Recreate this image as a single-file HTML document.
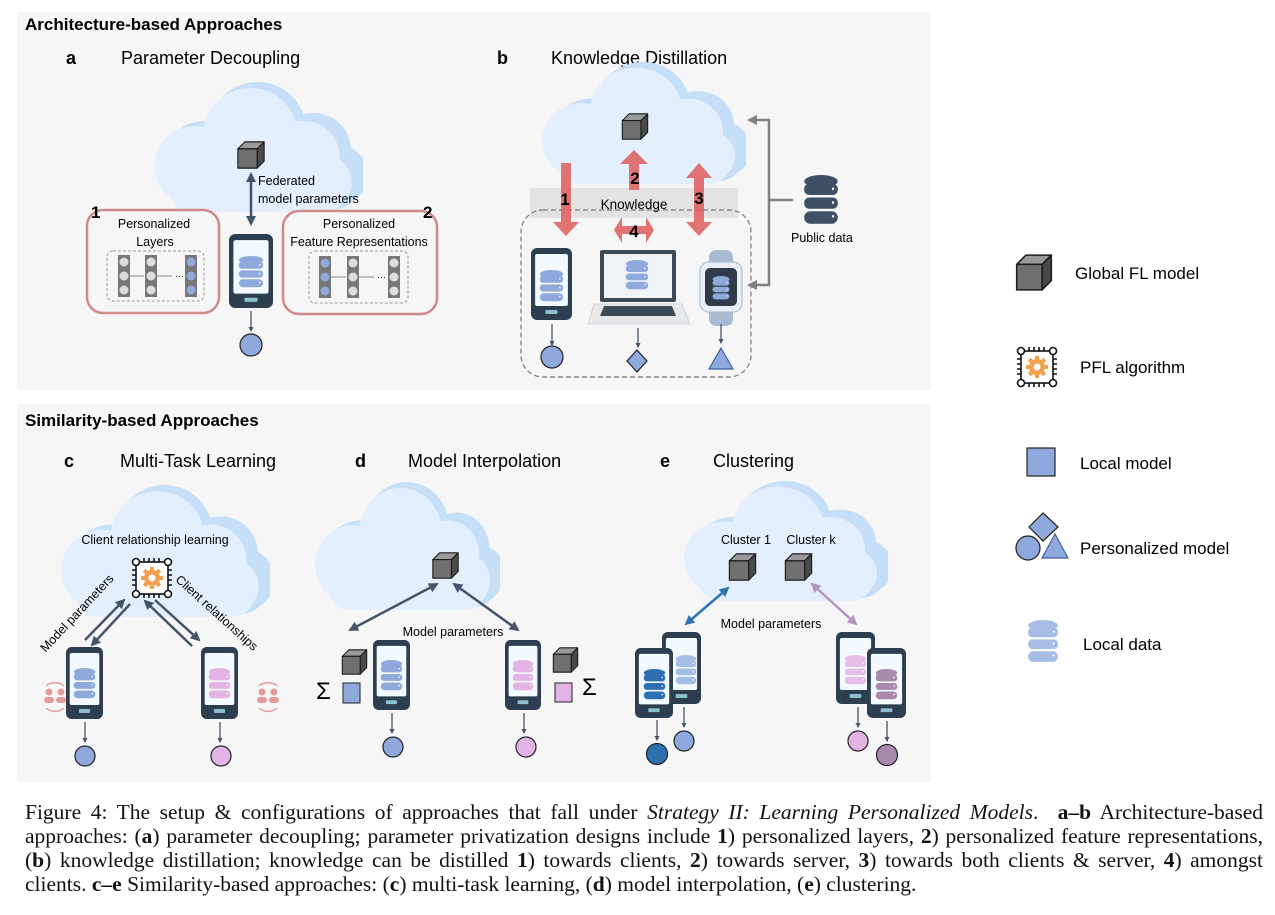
<!DOCTYPE html>
<html><head><meta charset="utf-8"><style>
html,body{margin:0;padding:0;background:#fff;width:1275px;height:915px;overflow:hidden}
.cap{position:absolute;left:25px;top:800px;width:1238px;font-family:"Liberation Serif",serif;font-size:21.5px;line-height:24px;color:#111}
.cap div{text-align:justify;text-align-last:justify;white-space:nowrap}
.cap div.last{text-align-last:left}
svg text{font-family:"Liberation Sans",sans-serif}
</style></head><body>
<svg width="1275" height="800" viewBox="0 0 1275 800" style="position:absolute;left:0;top:0">
<defs>
<symbol id="cloud" viewBox="0 0 210 130" preserveAspectRatio="none">
<g fill="#c6dff9" transform="translate(7,-3)">
<circle cx="100" cy="50" r="47"/><circle cx="48" cy="82" r="40"/><circle cx="155" cy="70" r="36"/><circle cx="178" cy="96" r="30"/><rect x="30" y="80" width="170" height="50" rx="25"/></g>
<g fill="#e3effc">
<circle cx="100" cy="52" r="46"/><circle cx="46" cy="84" r="40"/><circle cx="152" cy="74" r="35"/><circle cx="172" cy="100" r="27"/><rect x="20" y="84" width="175" height="46" rx="23"/></g>
</symbol>
<symbol id="phone" viewBox="0 0 40 72" preserveAspectRatio="none">
<rect x="0" y="0" width="40" height="72" rx="6" fill="#2c3e50"/>
<rect x="4" y="6" width="32" height="52" rx="2" fill="#f3faff"/>
<rect x="14" y="62" width="12" height="4" rx="1" fill="#8cc0d0"/>
</symbol>
<symbol id="db" viewBox="0 0 30 40" preserveAspectRatio="none">
<ellipse cx="15" cy="5" rx="14" ry="5"/>
<rect x="1" y="7" width="28" height="9" rx="4"/>
<rect x="1" y="18" width="28" height="9" rx="4"/>
<rect x="1" y="29" width="28" height="10" rx="5"/>
<g fill="#fff"><circle cx="25" cy="11" r="1"/><circle cx="25" cy="22" r="1"/><circle cx="25" cy="33" r="1"/></g>
</symbol>
<symbol id="cube" viewBox="0 0 32 32">
<g stroke="#1a1a1a" stroke-width="1.3" stroke-linejoin="round">
<polygon points="1,9 9,1 31,1 23,9" fill="#9a9a9a"/>
<polygon points="23,9 31,1 31,23 23,31" fill="#4a4a4a"/>
<rect x="1" y="9" width="22" height="22" fill="#707070"/></g>
</symbol>
<symbol id="chip" viewBox="0 0 44 44">
<g stroke="#111" stroke-width="1.6" fill="none">
<rect x="6" y="6" width="32" height="32" fill="#fff"/>
<path d="M14 2v4M19 2v4M24 2v4M29 2v4M14 38v4M19 38v4M24 38v4M29 38v4M2 14h4M2 19h4M2 24h4M2 29h4M38 14h4M38 19h4M38 24h4M38 29h4"/>
<circle cx="6" cy="6" r="3.5" fill="#fff"/><circle cx="38" cy="6" r="3.5" fill="#fff"/><circle cx="6" cy="38" r="3.5" fill="#fff"/><circle cx="38" cy="38" r="3.5" fill="#fff"/></g>
<g fill="#f3a04c"><circle cx="22" cy="22" r="8"/>
<rect x="20" y="11" width="4" height="22"/><rect x="11" y="20" width="22" height="4"/>
<rect x="20" y="11" width="4" height="22" transform="rotate(45 22 22)"/><rect x="20" y="11" width="4" height="22" transform="rotate(-45 22 22)"/></g>
<circle cx="22" cy="22" r="3.5" fill="#fff"/>
</symbol>
<marker id="ah" viewBox="0 0 10 10" refX="8" refY="5" markerWidth="4" markerHeight="4" orient="auto-start-reverse"><path d="M0 0L10 5L0 10z" fill="#44546a"/></marker>
<marker id="ahg" viewBox="0 0 10 10" refX="8" refY="5" markerWidth="4" markerHeight="4" orient="auto-start-reverse"><path d="M0 0L10 5L0 10z" fill="#7f7f7f"/></marker>
<marker id="ahb" viewBox="0 0 10 10" refX="8" refY="5" markerWidth="4" markerHeight="4" orient="auto-start-reverse"><path d="M0 0L10 5L0 10z" fill="#2e75b6"/></marker>
<marker id="ahp" viewBox="0 0 10 10" refX="8" refY="5" markerWidth="4" markerHeight="4" orient="auto-start-reverse"><path d="M0 0L10 5L0 10z" fill="#b493c0"/></marker>
</defs>

<rect x="17" y="12" width="914" height="378" fill="#f6f6f6"/>
<rect x="17" y="404" width="914" height="378" fill="#f6f6f6"/>
<text x="25" y="30" font-size="17" font-weight="bold">Architecture-based Approaches</text>
<text x="25" y="426" font-size="17" font-weight="bold">Similarity-based Approaches</text>

<!-- a -->
<text x="66" y="64" font-size="18" font-weight="bold">a</text>
<text x="121" y="64" font-size="18">Parameter Decoupling</text>
<use href="#cloud" x="148" y="82" width="215" height="130"/>
<use href="#cube" x="236" y="141" width="30" height="28"/>
<line x1="251" y1="174" x2="251" y2="224" stroke="#44546a" stroke-width="2.5" marker-start="url(#ah)" marker-end="url(#ah)"/>
<text x="258" y="185" font-size="12.5">Federated</text>
<text x="258" y="203" font-size="12.5">model parameters</text>
<rect x="87" y="210" width="132" height="103" rx="16" fill="none" stroke="#d08a8a" stroke-width="2.5"/>
<text x="91" y="218" font-size="17" font-weight="bold">1</text>
<text x="154" y="228" font-size="12.5" text-anchor="middle">Personalized</text>
<text x="155" y="246" font-size="12.5" text-anchor="middle">Layers</text>
<rect x="107" y="251" width="97" height="50" rx="6" fill="none" stroke="#999" stroke-dasharray="3,2"/>
<g fill="#777"><rect x="118" y="255" width="12" height="42"/><rect x="145" y="255" width="12" height="42"/><rect x="185" y="255" width="12" height="42"/></g>
<g fill="#ddd"><circle cx="124" cy="262" r="4.5"/><circle cx="124" cy="276" r="4.5"/><circle cx="124" cy="290" r="4.5"/><circle cx="151" cy="262" r="4.5"/><circle cx="151" cy="276" r="4.5"/><circle cx="151" cy="290" r="4.5"/></g>
<g fill="#8fa9dc"><circle cx="191" cy="262" r="4.5"/><circle cx="191" cy="276" r="4.5"/><circle cx="191" cy="290" r="4.5"/></g>
<g stroke="#888" stroke-width="1"><line x1="130" y1="276" x2="144" y2="276"/><line x1="157" y1="276" x2="172" y2="276"/></g>
<text x="175" y="279" font-size="9">···</text>
<rect x="283" y="211" width="154" height="103" rx="16" fill="none" stroke="#d08a8a" stroke-width="2.5"/>
<text x="423" y="218" font-size="17" font-weight="bold">2</text>
<text x="359" y="228" font-size="12.5" text-anchor="middle">Personalized</text>
<text x="359" y="246" font-size="12.5" text-anchor="middle">Feature Representations</text>
<rect x="309" y="251" width="99" height="52" rx="6" fill="none" stroke="#999" stroke-dasharray="3,2"/>
<g fill="#777"><rect x="319" y="256" width="12" height="42"/><rect x="347" y="256" width="12" height="42"/><rect x="388" y="256" width="12" height="42"/></g>
<g fill="#8fa9dc"><circle cx="325" cy="263" r="4.5"/><circle cx="325" cy="277" r="4.5"/><circle cx="325" cy="291" r="4.5"/></g>
<g fill="#ddd"><circle cx="353" cy="263" r="4.5"/><circle cx="353" cy="277" r="4.5"/><circle cx="353" cy="291" r="4.5"/><circle cx="394" cy="263" r="4.5"/><circle cx="394" cy="277" r="4.5"/><circle cx="394" cy="291" r="4.5"/></g>
<g stroke="#888" stroke-width="1"><line x1="331" y1="277" x2="346" y2="277"/><line x1="359" y1="277" x2="374" y2="277"/></g>
<text x="377" y="280" font-size="9">···</text>
<use href="#phone" x="229" y="234" width="44" height="74"/>
<use href="#db" x="238" y="256" width="26" height="32" fill="#8fa9dc"/>
<line x1="251" y1="311" x2="251" y2="331" stroke="#44546a" stroke-width="1.3" marker-end="url(#ah)"/>
<circle cx="251" cy="345" r="11" fill="#8fa9dc" stroke="#222" stroke-width="1.2"/>

<!-- b -->
<text x="497" y="64" font-size="18" font-weight="bold">b</text>
<text x="551" y="64" font-size="18">Knowledge Distillation</text>
<use href="#cloud" x="536" y="62" width="210" height="122"/>
<use href="#cube" x="621" y="113" width="28" height="27"/>
<rect x="530" y="188" width="208" height="30" fill="#e3e3e3"/>
<text x="634" y="209" font-size="13.5" text-anchor="middle">Knowledge</text>
<rect x="521" y="210" width="230" height="167" rx="22" fill="none" stroke="#777" stroke-width="1.2" stroke-dasharray="5,3"/>
<g fill="#de6161" fill-opacity="0.88">
<polygon points="561,163 571,163 571,222 579,222 566,236 553,222 561,222"/>
<polygon points="629,190 639,190 639,164 648,164 634,150 620,164 629,164"/>
<polygon points="694,178 704,178 704,222 712,222 699,236 686,222 694,222 694,178 686,178 699,163 712,178 704,178"/>
<polygon points="622,226 646,226 646,217 654,230 646,243 646,234 622,234 622,243 614,230 622,217"/>
</g>
<g font-size="17" font-weight="bold" text-anchor="middle"><text x="565" y="205">1</text><text x="635" y="184">2</text><text x="699" y="204">3</text><text x="634" y="237">4</text></g>
<use href="#phone" x="531" y="248" width="41" height="72"/>
<use href="#db" x="539" y="270" width="25" height="32" fill="#8fa9dc"/>
<rect x="600" y="250" width="76" height="52" rx="2" fill="#3c4a56"/>
<rect x="604" y="254" width="68" height="44" fill="#eef3f8"/>
<use href="#db" x="625" y="260" width="24" height="30" fill="#8fa9dc"/>
<polygon points="594,304 682,304 690,324 588,324" fill="#e6e9ec" stroke="#d0d4d8"/>
<polygon points="604,306 672,306 676,316 600,316" fill="#3c4a56"/>
<rect x="709" y="250" width="24" height="76" rx="7" fill="#a9bbd3"/>
<rect x="700" y="262" width="42" height="50" rx="9" fill="#e9eff6" stroke="#b0c0d2" stroke-width="1.2"/>
<rect x="705" y="268" width="32" height="38" rx="5" fill="#2f3c48"/>
<use href="#db" x="712" y="276" width="18" height="24" fill="#8fa9dc"/>
<g stroke="#44546a" stroke-width="1.3"><line x1="552" y1="324" x2="552" y2="345" marker-end="url(#ah)"/><line x1="638" y1="328" x2="638" y2="347" marker-end="url(#ah)"/><line x1="721" y1="324" x2="721" y2="343" marker-end="url(#ah)"/></g>
<circle cx="552" cy="357" r="11" fill="#8fa9dc" stroke="#222" stroke-width="1.2"/>
<polygon points="637,350 647,361 637,372 627,361" fill="#8fa9dc" stroke="#222" stroke-width="1.2"/>
<polygon points="721,348 733,369 709,369" fill="#8fa9dc" stroke="#3f5f9f" stroke-width="1.2"/>
<g stroke="#7f7f7f" stroke-width="2.5" fill="none"><path d="M749 120H769V285H749" marker-start="url(#ahg)" marker-end="url(#ahg)"/><line x1="769" y1="200" x2="793" y2="200"/></g>
<use href="#db" x="803" y="175" width="36" height="50" fill="#3e4f66"/>
<text x="791" y="242" font-size="12.5">Public data</text>

<!-- legend -->
<use href="#cube" x="1015" y="254" width="38" height="37"/>
<text x="1075" y="279" font-size="17">Global FL model</text>
<use href="#chip" x="1014" y="345" width="46" height="44"/>
<text x="1080" y="373" font-size="17">PFL algorithm</text>
<rect x="1027" y="448" width="28" height="28" fill="#8fa9dc" stroke="#222" stroke-width="1.2"/>
<text x="1080" y="469" font-size="17">Local model</text>
<polygon points="1043,513 1058,527 1043,541 1029,527" fill="#8fa9dc" stroke="#222" stroke-width="1.2"/>
<circle cx="1028" cy="548" r="12" fill="#8fa9dc" stroke="#222" stroke-width="1.2"/>
<polygon points="1055,534 1068,558 1042,558" fill="#8fa9dc" stroke="#3f5f9f" stroke-width="1.2"/>
<text x="1080" y="554" font-size="17">Personalized model</text>
<use href="#db" x="1027" y="620" width="32" height="43" fill="#a6bde6"/>
<text x="1083" y="650" font-size="17">Local data</text>

<!-- c -->
<text x="64" y="467" font-size="18" font-weight="bold">c</text>
<text x="120" y="467" font-size="18">Multi-Task Learning</text>
<use href="#cloud" x="55" y="485" width="215" height="132"/>
<text x="155" y="544" font-size="12.5" text-anchor="middle">Client relationship learning</text>
<use href="#chip" x="130" y="556" width="44" height="44"/>
<g stroke="#44546a" stroke-width="2.5">
<line x1="85" y1="640" x2="124" y2="600" marker-end="url(#ah)"/>
<line x1="130" y1="604" x2="92" y2="645" marker-end="url(#ah)"/>
<line x1="192" y1="646" x2="145" y2="601" marker-end="url(#ah)"/>
<line x1="155" y1="600" x2="199" y2="640" marker-end="url(#ah)"/>
</g>
<text font-size="12.5" text-anchor="middle" transform="translate(80,616) rotate(-47)">Model parameters</text>
<text font-size="12.5" text-anchor="middle" transform="translate(214,616) rotate(42)">Client relationships</text>
<use href="#phone" x="66" y="647" width="37" height="72"/>
<use href="#db" x="73" y="668" width="23" height="31" fill="#8fa9dc"/>
<use href="#phone" x="201" y="647" width="37" height="72"/>
<use href="#db" x="208" y="668" width="23" height="31" fill="#e3b3e6"/>
<g fill="#e39b9b"><circle cx="49" cy="692" r="3.5"/><circle cx="61" cy="692" r="3.5"/><rect x="44" y="697" width="10" height="6" rx="3"/><rect x="56" y="697" width="10" height="6" rx="3"/>
<circle cx="262" cy="692" r="3.5"/><circle cx="274" cy="692" r="3.5"/><rect x="257" y="697" width="10" height="6" rx="3"/><rect x="269" y="697" width="10" height="6" rx="3"/></g>
<g fill="none" stroke="#e39b9b" stroke-width="1.5"><path d="M46 686a12 10 0 0 1 18 0M46 708a12 10 0 0 0 18 0M259 686a12 10 0 0 1 18 0M259 708a12 10 0 0 0 18 0"/></g>
<g stroke="#44546a" stroke-width="1.3"><line x1="85" y1="722" x2="85" y2="742" marker-end="url(#ah)"/><line x1="220" y1="722" x2="220" y2="742" marker-end="url(#ah)"/></g>
<circle cx="85" cy="756" r="10" fill="#8fa9dc" stroke="#222" stroke-width="1.2"/>
<circle cx="221" cy="756" r="10" fill="#e3b3e6" stroke="#222" stroke-width="1.2"/>

<!-- d -->
<text x="355" y="467" font-size="18" font-weight="bold">d</text>
<text x="408" y="467" font-size="18">Model Interpolation</text>
<use href="#cloud" x="310" y="482" width="190" height="128"/>
<use href="#cube" x="432" y="552" width="27" height="27"/>
<line x1="437" y1="584" x2="350" y2="630" stroke="#44546a" stroke-width="2.5" marker-start="url(#ah)" marker-end="url(#ah)"/>
<line x1="454" y1="584" x2="518" y2="630" stroke="#44546a" stroke-width="2.5" marker-start="url(#ah)" marker-end="url(#ah)"/>
<text x="453" y="636" font-size="12.5" text-anchor="middle">Model parameters</text>
<use href="#phone" x="373" y="640" width="37" height="70"/>
<use href="#db" x="380" y="660" width="23" height="31" fill="#8fa9dc"/>
<use href="#phone" x="505" y="640" width="36" height="70"/>
<use href="#db" x="512" y="660" width="22" height="31" fill="#e3b3e6"/>
<text x="316" y="699" font-size="24">Σ</text>
<use href="#cube" x="341" y="649" width="27" height="26"/>
<rect x="343" y="683" width="17" height="20" fill="#8fa9dc" stroke="#222"/>
<use href="#cube" x="552" y="647" width="27" height="26"/>
<rect x="555" y="683" width="17" height="19" fill="#e3b3e6" stroke="#222"/>
<text x="582" y="695" font-size="24">Σ</text>
<g stroke="#44546a" stroke-width="1.3"><line x1="392" y1="713" x2="392" y2="733" marker-end="url(#ah)"/><line x1="524" y1="713" x2="524" y2="733" marker-end="url(#ah)"/></g>
<circle cx="393" cy="747" r="10" fill="#8fa9dc" stroke="#222" stroke-width="1.2"/>
<circle cx="526" cy="747" r="10" fill="#e3b3e6" stroke="#222" stroke-width="1.2"/>

<!-- e -->
<text x="660" y="467" font-size="18" font-weight="bold">e</text>
<text x="713" y="467" font-size="18">Clustering</text>
<use href="#cloud" x="678" y="481" width="210" height="120"/>
<text x="746" y="544" font-size="12.5" text-anchor="middle">Cluster 1</text>
<text x="811" y="544" font-size="12.5" text-anchor="middle">Cluster k</text>
<use href="#cube" x="728" y="553" width="29" height="28"/>
<use href="#cube" x="784" y="553" width="29" height="28"/>
<line x1="728" y1="588" x2="686" y2="624" stroke="#2e75b6" stroke-width="2.5" marker-start="url(#ahb)" marker-end="url(#ahb)"/>
<line x1="812" y1="584" x2="856" y2="624" stroke="#b493c0" stroke-width="2.5" marker-start="url(#ahp)" marker-end="url(#ahp)"/>
<text x="771" y="628" font-size="12.5" text-anchor="middle">Model parameters</text>
<use href="#phone" x="662" y="632" width="39" height="72"/>
<use href="#db" x="675" y="655" width="22" height="30" fill="#a6bde6"/>
<use href="#phone" x="635" y="648" width="38" height="70"/>
<use href="#db" x="643" y="669" width="23" height="31" fill="#2e6fb0"/>
<use href="#phone" x="836" y="632" width="39" height="72"/>
<use href="#db" x="844" y="655" width="23" height="30" fill="#e6bfe8"/>
<use href="#phone" x="867" y="648" width="39" height="70"/>
<use href="#db" x="875" y="669" width="23" height="31" fill="#a98aae"/>
<g stroke="#44546a" stroke-width="1.3"><line x1="657" y1="720" x2="657" y2="740" marker-end="url(#ah)"/><line x1="684" y1="707" x2="684" y2="727" marker-end="url(#ah)"/><line x1="858" y1="707" x2="858" y2="727" marker-end="url(#ah)"/><line x1="887" y1="721" x2="887" y2="741" marker-end="url(#ah)"/></g>
<circle cx="657" cy="754" r="10.5" fill="#2e6fb0" stroke="#222" stroke-width="1.2"/>
<circle cx="684" cy="741" r="10" fill="#8fa9dc" stroke="#222" stroke-width="1.2"/>
<circle cx="858" cy="741" r="10" fill="#e3b3e6" stroke="#222" stroke-width="1.2"/>
<circle cx="887" cy="755" r="10.5" fill="#a98aae" stroke="#222" stroke-width="1.2"/>
</svg>
<div class="cap">
<div>Figure 4: The setup &amp; configurations of approaches that fall under <i>Strategy II: Learning Personalized Models</i>. &nbsp;<b>a–b</b> Architecture-based</div>
<div>approaches: (<b>a</b>) parameter decoupling; parameter privatization designs include <b>1</b>) personalized layers, <b>2</b>) personalized feature representations,</div>
<div>(<b>b</b>) knowledge distillation; knowledge can be distilled <b>1</b>) towards clients, <b>2</b>) towards server, <b>3</b>) towards both clients &amp; server, <b>4</b>) amongst</div>
<div class="last">clients. <b>c–e</b> Similarity-based approaches: (<b>c</b>) multi-task learning, (<b>d</b>) model interpolation, (<b>e</b>) clustering.</div>
</div>
</body></html>
